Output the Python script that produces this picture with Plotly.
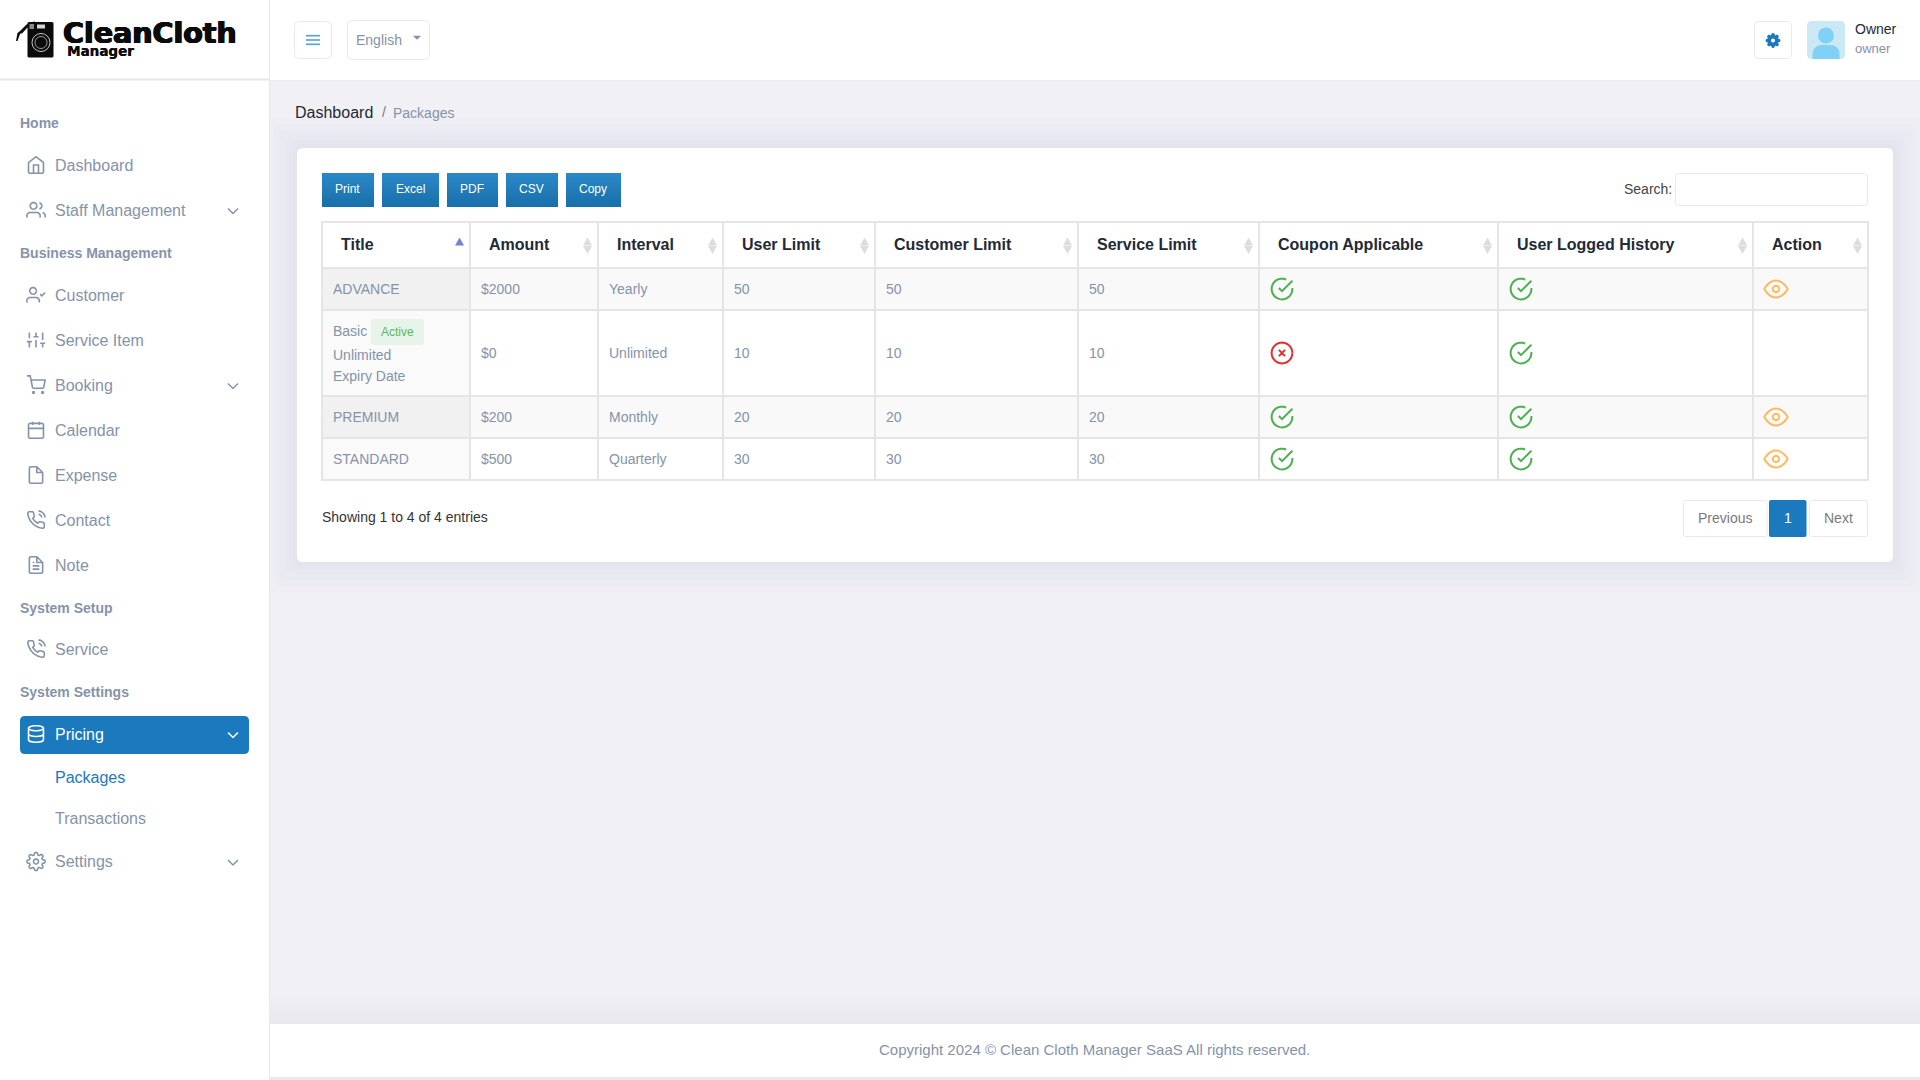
import math
import re
import plotly.graph_objects as go

FONT = "Liberation Sans"
GREY_TEXT = "#8593a9"
DARK_TEXT = "#222a35"
BLUE = "#1a7abd"
BORDER = "#e5e5e5"
SOFT_BORDER = "#e6e9ef"

# ==========================================
# Content
# ==========================================
section_labels = ["Home", "Business Management", "System Setup", "System Settings"]
section_y = [123, 253, 608, 692]

menu_labels = ["Dashboard", "Staff Management", "Customer", "Service Item", "Booking", "Calendar",
               "Expense", "Contact", "Note", "Service", "Pricing", "Settings"]
menu_icons = ["home", "users", "user_check", "sliders", "cart", "calendar",
              "file", "phone", "file_text", "phone", "database", "settings"]
menu_y = [165, 210, 295, 340, 385, 430, 475, 520, 565, 649, 734, 861.5]
menu_has_chevron = ["Staff Management", "Booking", "Pricing", "Settings"]

submenu_labels = ["Packages", "Transactions"]
submenu_y = [777, 818]

export_buttons = ["Print", "Excel", "PDF", "CSV", "Copy"]
export_left = [322, 382, 447, 506, 566]
export_right = [374, 439, 498, 558, 621]

columns = ["Title", "Amount", "Interval", "User Limit", "Customer Limit", "Service Limit",
           "Coupon Applicable", "User Logged History", "Action"]
column_edges = [322, 470, 598, 723, 875, 1078, 1259, 1498, 1753, 1868]
row_edges = [222, 268, 310, 396, 438, 480]

plans = ["ADVANCE", "Basic", "PREMIUM", "STANDARD"]
amounts = ["$2000", "$0", "$200", "$500"]
intervals = ["Yearly", "Unlimited", "Monthly", "Quarterly"]
user_limits = [50, 10, 20, 30]
customer_limits = [50, 10, 20, 30]
service_limits = [50, 10, 20, 30]
coupon_ok = [True, False, True, True]
history_ok = [True, True, True, True]
has_action = [True, False, True, True]

# feather icon outlines (24 unit box)
FILE_D = "M13 2H6a2 2 0 0 0-2 2v16a2 2 0 0 0 2 2h12a2 2 0 0 0 2-2V9z M13 2V9H20"
GEAR_D = ("M19.4 15a1.65 1.65 0 0 0 .33 1.82l.06.06a2 2 0 0 1 0 2.83 2 2 0 0 1-2.83 0l-.06-.06"
          "a1.65 1.65 0 0 0-1.82-.33 1.65 1.65 0 0 0-1 1.51V21a2 2 0 0 1-2 2 2 2 0 0 1-2-2v-.09"
          "A1.65 1.65 0 0 0 9 19.4a1.65 1.65 0 0 0-1.82.33l-.06.06a2 2 0 0 1-2.83 0 2 2 0 0 1 0-2.83l.06-.06"
          "a1.65 1.65 0 0 0 .33-1.82 1.65 1.65 0 0 0-1.51-1H3a2 2 0 0 1-2-2 2 2 0 0 1 2-2h.09"
          "A1.65 1.65 0 0 0 4.6 9a1.65 1.65 0 0 0-.33-1.82l-.06-.06a2 2 0 0 1 0-2.83 2 2 0 0 1 2.83 0l.06.06"
          "a1.65 1.65 0 0 0 1.82.33H9a1.65 1.65 0 0 0 1-1.51V3a2 2 0 0 1 2-2 2 2 0 0 1 2 2v.09"
          "a1.65 1.65 0 0 0 1 1.51 1.65 1.65 0 0 0 1.82-.33l.06-.06a2 2 0 0 1 2.83 0 2 2 0 0 1 0 2.83l-.06.06"
          "a1.65 1.65 0 0 0-.33 1.82V9a1.65 1.65 0 0 0 1.51 1H21a2 2 0 0 1 2 2 2 2 0 0 1-2 2h-.09"
          "a1.65 1.65 0 0 0-1.51 1z")
ICONS = {
    "home": "M3 9l9-7 9 7v11a2 2 0 0 1-2 2H5a2 2 0 0 1-2-2z M9 22V12H15V22",
    "users": ("M17 21v-2a4 4 0 0 0-4-4H5a4 4 0 0 0-4 4v2 M13 7a4 4 0 1 1-8 0a4 4 0 1 1 8 0"
              " M23 21v-2a4 4 0 0 0-3-3.87 M16 3.13a4 4 0 0 1 0 7.75"),
    "user_check": ("M16 21v-2a4 4 0 0 0-4-4H5a4 4 0 0 0-4 4v2 M12.5 7a4 4 0 1 1-8 0a4 4 0 1 1 8 0"
                   " M17 11L19 13L23 9"),
    "sliders": ("M4 21V14 M4 10V3 M12 21V12 M12 8V3 M20 21V16 M20 12V3"
                " M1 14H7 M9 8H15 M17 16H23"),
    "cart": ("M10 21a1 1 0 1 1-2 0a1 1 0 1 1 2 0 M21 21a1 1 0 1 1-2 0a1 1 0 1 1 2 0"
             " M1 1h4l2.68 13.39a2 2 0 0 0 2 1.61h9.72a2 2 0 0 0 2-1.61L23 6H6"),
    "calendar": "M5 4H19a2 2 0 0 1 2 2V20a2 2 0 0 1-2 2H5a2 2 0 0 1-2-2V6a2 2 0 0 1 2-2z M16 2V6 M8 2V6 M3 10H21",
    "file": FILE_D,
    "file_text": FILE_D + " M16 13H8 M16 17H8 M10 9H8",
    "phone": ("M15.05 5A5 5 0 0 1 19 8.95 M15.05 1A9 9 0 0 1 23 8.94"
              " M22 16.92v3a2 2 0 0 1-2.18 2 19.79 19.79 0 0 1-8.63-3.07 19.5 19.5 0 0 1-6-6"
              " 19.79 19.79 0 0 1-3.07-8.67A2 2 0 0 1 4.11 2h3a2 2 0 0 1 2 1.72 12.84 12.84 0 0 0 .7 2.81"
              " 2 2 0 0 1-.45 2.11L8.09 9.91a16 16 0 0 0 6 6l1.27-1.27a2 2 0 0 1 2.11-.45"
              " 12.84 12.84 0 0 0 2.81.7A2 2 0 0 1 22 16.92z"),
    "database": ("M21 5a9 3 0 1 1-18 0a9 3 0 1 1 18 0 M21 12c0 1.66-4 3-9 3s-9-1.34-9-3"
                 " M3 5v14c0 1.66 4 3 9 3s9-1.34 9-3V5"),
    "settings": "M15 12a3 3 0 1 1-6 0a3 3 0 1 1 6 0 " + GEAR_D,
    "chevron": "M6 9L12 15L18 9",
    "check": "M22 11.08V12a10 10 0 1 1-5.93-9.14 M22 4L12 14.01L9 11.01",
    "cross": "M22 12a10 10 0 1 1-20 0a10 10 0 1 1 20 0 M15 9L9 15 M9 9L15 15",
    "eye": "M1 12s4-8 11-8 11 8 11 8-4 8-11 8-11-8-11-8z M15 12a3 3 0 1 1-6 0a3 3 0 1 1 6 0",
}


# ==========================================
# Helpers
# ==========================================
def arc_points(x0, y0, rx, ry, large, sweep, x1, y1):
    # svg arc to a few short segments (shape paths have no arc command)
    dx, dy = (x0 - x1) / 2, (y0 - y1) / 2
    scale = dx * dx / (rx * rx) + dy * dy / (ry * ry)
    if scale > 1:
        rx, ry = rx * math.sqrt(scale), ry * math.sqrt(scale)
    num = max(rx * rx * ry * ry - rx * rx * dy * dy - ry * ry * dx * dx, 0)
    den = rx * rx * dy * dy + ry * ry * dx * dx
    k = math.sqrt(num / den) if den else 0
    if large == sweep:
        k = -k
    cx_, cy_ = k * rx * dy / ry, -k * ry * dx / rx
    cx, cy = cx_ + (x0 + x1) / 2, cy_ + (y0 + y1) / 2
    a0 = math.atan2((dy - cy_) / ry, (dx - cx_) / rx)
    a1 = math.atan2((-dy - cy_) / ry, (-dx - cx_) / rx)
    delta = a1 - a0
    if sweep and delta < 0:
        delta += 2 * math.pi
    if not sweep and delta > 0:
        delta -= 2 * math.pi
    n = max(3, int(abs(delta) / 0.25))
    return [(cx + rx * math.cos(a0 + delta * i / n), cy + ry * math.sin(a0 + delta * i / n)) for i in range(1, n + 1)]


def icon_path(d, cx, cy, s):
    tokens = re.findall(r"[MmLlHhVvCcSsAaZz]|-?\d*\.?\d+", d)
    out = []
    pos = [0.0, 0.0]
    start = [0.0, 0.0]
    last_ctrl = None
    cmd = None
    i = 0

    def px(p):
        return f"{cx + (p[0] - 12) * s:.2f},{cy + (p[1] - 12) * s:.2f}"

    def num():
        nonlocal i
        v = float(tokens[i])
        i += 1
        return v

    while i < len(tokens):
        if tokens[i].isalpha():
            cmd = tokens[i]
            i += 1
        rel = cmd.islower()
        base = pos if rel else [0.0, 0.0]
        c = cmd.upper()
        if c == "Z":
            out.append("Z")
            pos = start[:]
            continue
        if c == "M":
            pos = [base[0] + num(), base[1] + num()]
            start = pos[:]
            out.append("M" + px(pos))
            cmd = "l" if rel else "L"
            last_ctrl = None
        elif c == "L":
            pos = [base[0] + num(), base[1] + num()]
            out.append("L" + px(pos))
            last_ctrl = None
        elif c == "H":
            pos = [base[0] + num(), pos[1]]
            out.append("L" + px(pos))
            last_ctrl = None
        elif c == "V":
            pos = [pos[0], base[1] + num()]
            out.append("L" + px(pos))
            last_ctrl = None
        elif c == "C":
            p1 = [base[0] + num(), base[1] + num()]
            p2 = [base[0] + num(), base[1] + num()]
            pos = [base[0] + num(), base[1] + num()]
            out.append(f"C{px(p1)} {px(p2)} {px(pos)}")
            last_ctrl = p2
        elif c == "S":
            p1 = [2 * pos[0] - last_ctrl[0], 2 * pos[1] - last_ctrl[1]] if last_ctrl else pos[:]
            p2 = [base[0] + num(), base[1] + num()]
            pos = [base[0] + num(), base[1] + num()]
            out.append(f"C{px(p1)} {px(p2)} {px(pos)}")
            last_ctrl = p2
        elif c == "A":
            rx, ry = num(), num()
            num()
            large, sweep = int(num()), int(num())
            end = [base[0] + num(), base[1] + num()]
            for p in arc_points(pos[0], pos[1], rx, ry, large, sweep, end[0], end[1]):
                out.append("L" + px(p))
            pos = end
            last_ctrl = None
    return " ".join(out)


fig = go.Figure()


def rect(x0, y0, x1, y1, fill, line=None, width=1):
    fig.add_shape(type="rect", x0=x0, y0=y0, x1=x1, y1=y1, fillcolor=fill, layer="above",
                  line=dict(color=line or "rgba(0,0,0,0)", width=width if line else 0))


def round_rect(x0, y0, x1, y1, r, fill, line=None, width=1):
    d = (f"M{x0 + r},{y0} L{x1 - r},{y0} Q{x1},{y0} {x1},{y0 + r} L{x1},{y1 - r} Q{x1},{y1} {x1 - r},{y1} "
         f"L{x0 + r},{y1} Q{x0},{y1} {x0},{y1 - r} L{x0},{y0 + r} Q{x0},{y0} {x0 + r},{y0} Z")
    fig.add_shape(type="path", path=d, fillcolor=fill, layer="above",
                  line=dict(color=line or "rgba(0,0,0,0)", width=width if line else 0))


def segment(x0, y0, x1, y1, color, width=1):
    fig.add_shape(type="line", x0=x0, y0=y0, x1=x1, y1=y1, layer="above", line=dict(color=color, width=width))


def polygon(d, fill):
    fig.add_shape(type="path", path=d, fillcolor=fill, layer="above", line=dict(color="rgba(0,0,0,0)", width=0))


def icon(name, cx, cy, s, color, width, fill="rgba(0,0,0,0)"):
    fig.add_shape(type="path", path=icon_path(ICONS[name], cx, cy, s), fillcolor=fill, layer="above",
                  line=dict(color=color, width=width))


def label(x, y, text, size=14, color=GREY_TEXT, anchor="left", bold=False, family=FONT, shadow="none"):
    fig.add_annotation(x=x, y=y, text=str(text), showarrow=False, xanchor=anchor, yanchor="middle",
                       borderpad=0, borderwidth=0,
                       font=dict(family=family, size=size, color=color, shadow=shadow,
                                 weight="bold" if bold else "normal"))


def mix(c0, c1, t):
    a = [int(c0[i:i + 2], 16) for i in (1, 3, 5)]
    b = [int(c1[i:i + 2], 16) for i in (1, 3, 5)]
    return "#" + "".join(f"{round(p + (q - p) * t):02x}" for p, q in zip(a, b))


def gradient_rect(x0, y0, x1, y1, top, bottom, step=2):
    y = y0
    while y < y1:
        rect(x0, y, x1, min(y + step, y1), mix(top, bottom, (y - y0) / (y1 - y0)))
        y += step


# ==========================================
# Page frame
# ==========================================
rect(270, 80, 1920, 1080, "#f0f0f5")
gradient_rect(270, 990, 1920, 1024, "#f0f0f5", "#e8e8ed")
rect(270, 0, 1920, 80, "#ffffff")
segment(270, 80.5, 1920, 80.5, "#e9e9ee", 1)

# card shadow
for grow in [30, 24, 18, 12, 8, 4]:
    round_rect(297 - grow, 148 - grow, 1893 + grow, 562 + grow, 8, "rgba(90,90,130,0.012)")
round_rect(297, 148, 1893, 562, 6, "#ffffff")

# footer
rect(270, 1024, 1920, 1077, "#ffffff")
rect(270, 1077, 1920, 1080, "#e9e9ee")
label(1094.5, 1049.5, "Copyright 2024 © Clean Cloth Manager SaaS All rights reserved.", size=15, anchor="center")

# sidebar
rect(0, 0, 269, 1080, "#ffffff")
segment(269.5, 0, 269.5, 1080, "#e8e8ec", 1)
segment(0, 79.5, 269, 79.5, "#e6e6ea", 2)

# logo
polygon("M16,41 L17.5,33 L20,31 L26,25 L30,22.5 L35,21.5 L35,24 L30,25.5 L27,28 L22.5,33 L20,34 L17.5,41 Z", "#0b0b0b")
round_rect(27.5, 22, 53.5, 57.5, 1.5, "#0b0b0b")
fig.add_shape(type="circle", x0=32, y0=33.5, x1=50, y1=51.5, fillcolor="#0b0b0b", layer="above",
              line=dict(color="#c9c9c9", width=1))
fig.add_shape(type="circle", x0=35, y0=36.5, x1=47, y1=48.5, fillcolor="#0b0b0b", layer="above",
              line=dict(color="#9a9a9a", width=1))
rect(37, 24.5, 45, 28.5, "#d6d6d6")
rect(29.5, 24, 34, 29, "#8a8a8a")
logo_shadow = "0.7px 0 0 #0b0b0b, -0.7px 0 0 #0b0b0b, 0 0.4px 0 #0b0b0b, 0 -0.4px 0 #0b0b0b"
label(62.5, 33, "CleanCloth", size=28.5, color="#0b0b0b", bold=True, family="DejaVu Sans", shadow=logo_shadow)
label(66.5, 50.7, "Manager", size=13.5, color="#0b0b0b", bold=True, family="DejaVu Sans", shadow="0.3px 0 0 #0b0b0b")

for text, y in zip(section_labels, section_y):
    label(20, y, text, bold=True)

round_rect(20, 716, 249, 754, 5, BLUE)
for text, name, y in zip(menu_labels, menu_icons, menu_y):
    color = "#ffffff" if text == "Pricing" else GREY_TEXT
    icon(name, 36, y, 0.83, color, 1.6)
    label(55, y, text, size=16, color=color)
    if text in menu_has_chevron:
        icon("chevron", 233, y + 1, 0.83, color, 1.5)
for text, y in zip(submenu_labels, submenu_y):
    label(55, y, text, size=16, color=BLUE if text == "Packages" else GREY_TEXT)

# ==========================================
# Top bar
# ==========================================
round_rect(294.5, 21.5, 331.5, 58.5, 5, "#ffffff", SOFT_BORDER)
for y in [35.7, 40, 44.3]:
    segment(306, y, 320, y, "#5aa5d6", 1.7)
round_rect(347.5, 20.5, 429.5, 59.5, 5, "#ffffff", SOFT_BORDER)
label(356, 40, "English")
polygon("M413,35.7 L421,35.7 L417,39.7 Z", GREY_TEXT)

round_rect(1754.5, 21.5, 1791.5, 58.5, 5, "#ffffff", SOFT_BORDER)
icon("settings", 1773, 40.5, 0.62, BLUE, 1.2, fill=BLUE)
fig.add_shape(type="circle", x0=1771, y0=38.5, x1=1775, y1=42.5, fillcolor="#ffffff", layer="above",
              line=dict(width=0))
round_rect(1807, 21, 1845, 59, 5, "#cbe8f5")
fig.add_shape(type="circle", x0=1818, y0=27.5, x1=1834, y1=43.5, fillcolor="#7fd1f5", layer="above",
              line=dict(width=0))
polygon("M1812.5,59 L1812.5,54 C1812.5,48 1818,45 1822,45 L1830,45 C1835,45 1839.5,48 1839.5,54 L1839.5,59 Z",
        "#7fd1f5")
label(1855, 29, "Owner", color=DARK_TEXT)
label(1855, 48.5, "owner", size=13)

# breadcrumb
label(295, 112, "Dashboard", size=16, color=DARK_TEXT)
label(381.5, 112, "/", color="#6f7b8f")
label(393, 113, "Packages")

# ==========================================
# Export buttons and search
# ==========================================
for text, x0, x1 in zip(export_buttons, export_left, export_right):
    gradient_rect(x0, 173, x1, 207, "#2a88c7", "#186ea8")
    label((x0 + x1) / 2 - 0.5, 188.5, text, size=12, color="#ffffff", anchor="center")

label(1672, 189, "Search:", color="#444444", anchor="right")
round_rect(1675.5, 173.5, 1867.5, 205.5, 3, "#ffffff", SOFT_BORDER)

# ==========================================
# Table
# ==========================================
for i in range(len(plans)):
    y0, y1 = row_edges[i + 1], row_edges[i + 2]
    striped = i % 2 == 0
    rect(column_edges[0], y0, column_edges[1], y1, "#f1f1f1" if striped else "#fafafa")
    if striped:
        rect(column_edges[1], y0, column_edges[-1], y1, "#f9f9f9")

for x in column_edges:
    segment(x, row_edges[0], x, row_edges[-1], BORDER, 2)
for y in row_edges:
    segment(column_edges[0] - 1, y, column_edges[-1] + 1, y, BORDER, 2)

header_x = [341, 489, 617, 742, 894, 1097, 1278, 1517, 1772]
header_y = 244.5
for i, text in enumerate(columns):
    label(header_x[i], header_y, text, size=16, color=DARK_TEXT, bold=True)
    ax = column_edges[i + 1] - 10.5
    up = "#7b7fd8" if i == 0 else "#dddddd"
    polygon(f"M{ax - 4.5},245.5 L{ax + 4.5},245.5 L{ax},237.5 Z", up)
    if i > 0:
        polygon(f"M{ax - 4.5},246 L{ax + 4.5},246 L{ax},254 Z", "#dddddd")

cell_x = [c + 11 for c in column_edges]
for i in range(len(plans)):
    yc = (row_edges[i + 1] + row_edges[i + 2]) / 2
    if plans[i] == "Basic":
        label(cell_x[0], 331, plans[i])
        round_rect(371, 319, 424, 345, 3, "#e8f3ea")
        label(397.5, 332, "Active", size=12, color="#5cb85c", anchor="center")
        label(cell_x[0], 355, "Unlimited")
        label(cell_x[0], 376, "Expiry Date")
    else:
        label(cell_x[0], yc - 0.5, plans[i])
    row_values = [amounts[i], intervals[i], user_limits[i], customer_limits[i], service_limits[i]]
    for j, value in enumerate(row_values):
        label(cell_x[j + 1], yc - 0.5, value)
    icon("check" if coupon_ok[i] else "cross", 1282, yc, 1.04, "#4caf50" if coupon_ok[i] else "#e53030", 2)
    if history_ok[i]:
        icon("check", 1521, yc, 1.04, "#4caf50", 2)
    if has_action[i]:
        icon("eye", 1776, yc, 1.06, "#fdbb5e", 2)

# ==========================================
# Table footer
# ==========================================
label(322, 517, "Showing 1 to 4 of 4 entries", color="#333333")
round_rect(1683.5, 500.5, 1767, 536.5, 2, "#ffffff", SOFT_BORDER)
label(1725, 518, "Previous", color="#7a7a7a", anchor="center")
round_rect(1769, 500, 1806.5, 537, 2, BLUE)
label(1788, 518, "1", color="#ffffff", anchor="center")
round_rect(1809.5, 500.5, 1867.5, 536.5, 2, "#ffffff", SOFT_BORDER)
label(1838.5, 518, "Next", color="#7a7a7a", anchor="center")

fig.update_layout(
    width=1920,
    height=1080,
    margin=dict(l=0, r=0, t=0, b=0),
    paper_bgcolor="#ffffff",
    plot_bgcolor="#ffffff",
    showlegend=False,
    xaxis=dict(range=[0, 1920], visible=False, fixedrange=True),
    yaxis=dict(range=[1080, 0], visible=False, fixedrange=True),
)

fig.write_html("out.html", config={"displayModeBar": False},
               post_script="document.body.style.margin='0';document.body.style.overflow='hidden';")
